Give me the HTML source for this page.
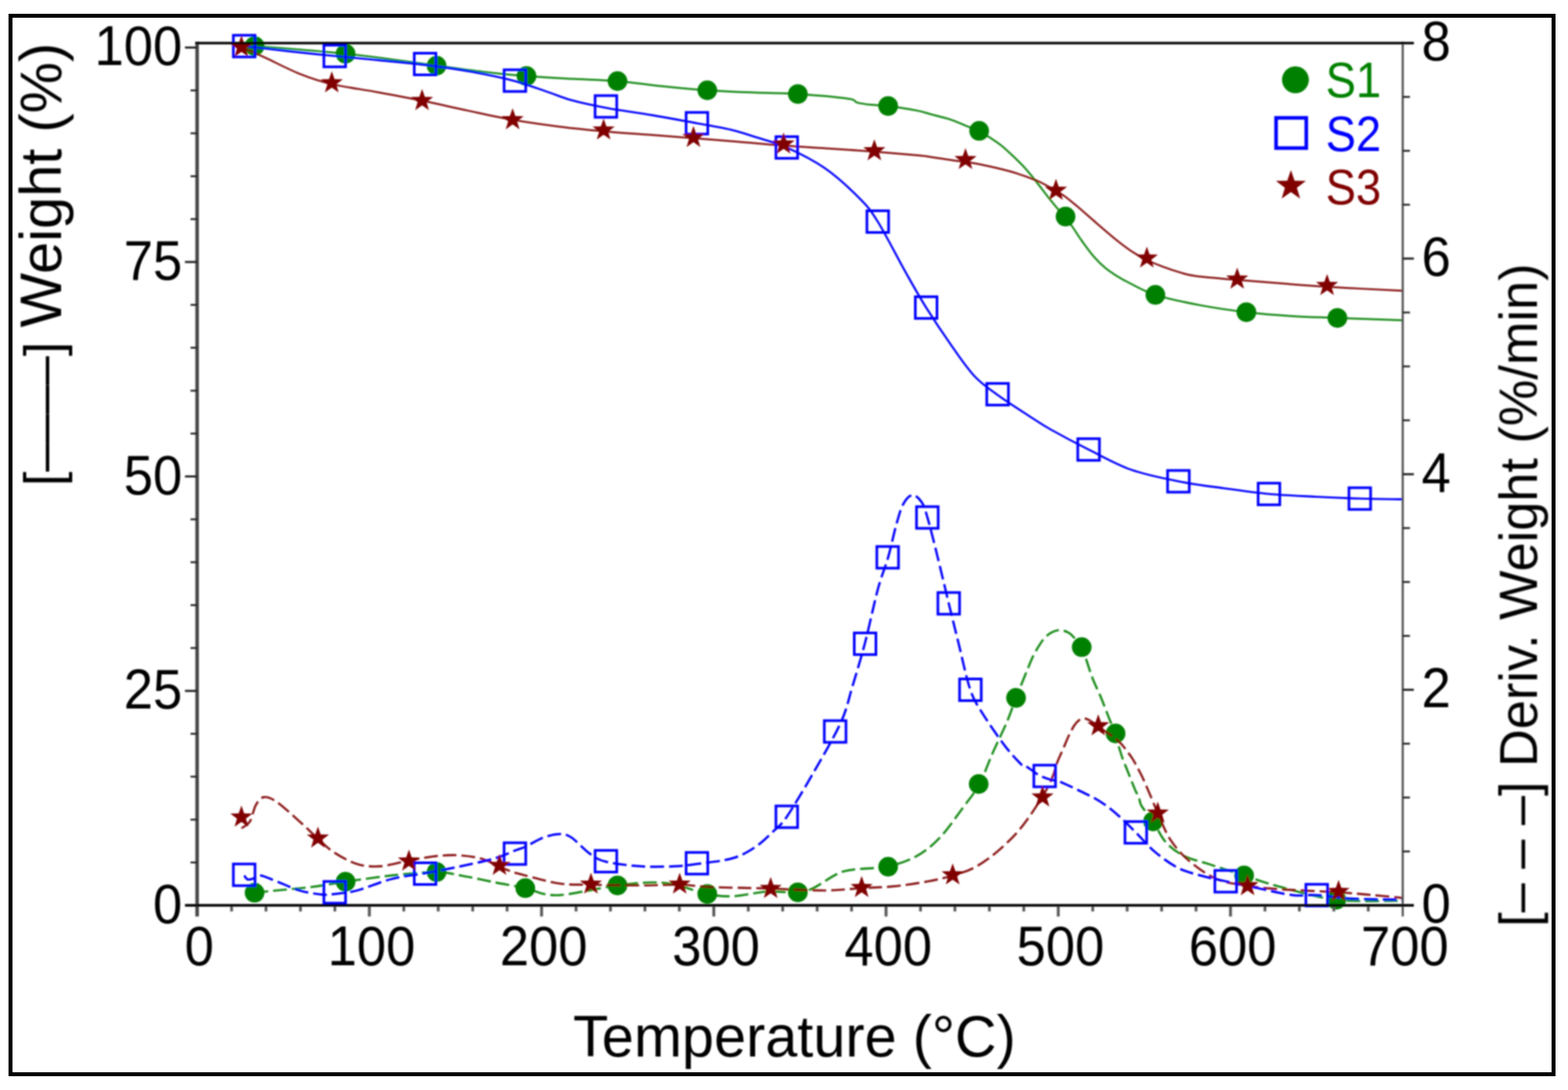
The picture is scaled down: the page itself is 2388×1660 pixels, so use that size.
<!DOCTYPE html>
<html lang="en"><head><meta charset="utf-8"><title>Weight and Deriv. Weight vs Temperature</title>
<style>
html,body{margin:0;padding:0;background:#fff;}
body{width:2388px;height:1660px;overflow:hidden;}
svg{display:block;}
text{font-family:"Liberation Sans",sans-serif;}
</style></head><body>
<svg width="2388" height="1660" viewBox="0 0 2388 1660">
<rect x="0" y="0" width="2388" height="1660" fill="#fff"/>
<defs><filter id="soft" x="-1%" y="-1%" width="102%" height="102%"><feGaussianBlur stdDeviation="1.1"/></filter></defs>
<g filter="url(#soft)">
<clipPath id="plot"><rect x="300.2" y="25.6" width="1836.1" height="1393.2"/></clipPath>
<g clip-path="url(#plot)">
<path d="M387.7 70.2C399.1 71.1 433 73.5 456.1 75.4C479.2 77.3 502.9 79.3 526.3 81.8C549.7 84.3 573.4 87.5 596.5 90.5C619.6 93.5 641.5 96.8 664.9 100C688.3 103.2 714.3 106.9 736.8 109.5C759.3 112.1 777.8 114 800 115.8C822.2 117.5 846.8 118.7 870.2 120C893.6 121.3 917 121.6 940.4 123.5C963.8 125.4 987.7 129.3 1010.5 131.6C1033.3 133.9 1053.8 135.9 1077.2 137.5C1100.6 139.1 1127.9 140.2 1150.9 141.1C1173.9 142 1191.7 141.7 1215.1 143.2C1238.5 144.7 1276.2 148 1291.2 150.2C1306.2 152.3 1299.5 154.5 1305.3 156.1C1311.1 157.7 1318.4 158.7 1326.3 159.6C1334.2 160.5 1340.9 159.9 1352.6 161.4C1364.3 162.9 1385.3 166.2 1396.5 168.4C1407.7 170.6 1411.7 172.4 1420 174.6C1428.3 176.8 1437.5 178.7 1446.3 181.6C1455.1 184.5 1465.1 189.1 1472.6 192.1C1480.1 195.1 1485.2 196.6 1491.1 199.5C1496.9 202.4 1502 205.9 1507.7 209.6C1513.4 213.3 1519.5 217.2 1525.3 221.9C1531.1 226.6 1536.9 232.1 1542.8 237.7C1548.7 243.3 1554.6 248.9 1560.4 255.3C1566.2 261.7 1572.1 269 1577.9 276.3C1583.7 283.6 1589.9 292.1 1595.4 299.1C1601 306.1 1606.7 313.1 1611.2 318.4C1615.7 323.7 1618.8 326.4 1622.6 331.1C1626.4 335.8 1629.8 340.4 1634 346.5C1638.2 352.6 1642.8 360.2 1648.1 367.5C1653.4 374.8 1659.8 383.7 1665.6 390.4C1671.4 397.1 1677.3 402.9 1683.2 407.9C1689.1 412.9 1694.9 416.5 1700.7 420.2C1706.5 423.9 1708.4 425.2 1718.2 430C1728 434.8 1741.3 443.3 1759.6 449.1C1777.9 454.9 1805 460.5 1828.1 464.9C1851.2 469.3 1874.8 472.6 1898.2 475.4C1921.6 478.1 1945.3 479.9 1968.4 481.4C1991.5 482.9 2009 483.1 2036.8 484.2C2064.6 485.2 2118.7 487.1 2135.1 487.7" fill="none" stroke="#008000" stroke-width="3" stroke-linejoin="round" stroke-opacity="0.9"/>
<path d="M387.7 1359.6C393.3 1359 406.8 1357.5 421.1 1356.1C435.4 1354.6 456.2 1353.1 473.7 1350.9C491.2 1348.7 505.8 1345.7 526.3 1342.8C546.8 1339.9 573.4 1335.8 596.5 1333.3C619.6 1330.8 647.4 1328.1 664.9 1328.1C682.4 1328.1 686.9 1330.7 701.8 1333.3C716.7 1335.9 738 1340.7 754.4 1343.9C770.8 1347.1 787.7 1349.7 800 1352.6C812.3 1355.5 819.3 1359.6 828.1 1361.4C836.9 1363.2 842.7 1363.8 852.6 1363.2C862.5 1362.6 873.1 1360.4 887.7 1357.9C902.3 1355.4 922.9 1350.7 940.4 1348.4C957.9 1346.1 978.4 1344.1 993 1343.9C1007.6 1343.7 1014.1 1344.5 1028.1 1347.4C1042.1 1350.3 1062.6 1358.5 1077.2 1361.4C1091.8 1364.3 1100.6 1365.5 1115.8 1364.9C1131 1364.3 1151.9 1358.9 1168.4 1357.9C1185 1356.9 1203.4 1359.8 1215.1 1358.9C1226.8 1358 1228.8 1357.1 1238.6 1352.6C1248.4 1348 1263.8 1336.3 1273.7 1331.6C1283.6 1326.9 1285.1 1326.6 1298.2 1324.6C1311.3 1322.5 1336.2 1322.8 1352.6 1319.3C1369 1315.8 1383.3 1310.8 1396.5 1303.5C1409.7 1296.2 1419.9 1287.7 1431.6 1275.4C1443.3 1263.1 1456.8 1243.2 1466.7 1229.8C1476.6 1216.3 1483.6 1208.7 1491.2 1194.7C1498.8 1180.7 1505.3 1161.4 1512.3 1145.6C1519.3 1129.8 1527.4 1113.8 1533.3 1100C1539.2 1086.2 1542.2 1076.1 1547.4 1062.8C1552.6 1049.5 1560.3 1030.5 1564.6 1020C1568.9 1009.5 1570.4 1005.6 1573.3 999.6C1576.2 993.6 1579.2 988.6 1582.1 983.9C1585 979.2 1587.7 975 1590.9 971.6C1594.1 968.2 1597.6 965.2 1601.4 963.2C1605.2 961.2 1609.6 959.7 1613.7 959.6C1617.8 959.5 1622.5 961.1 1626 962.8C1629.5 964.5 1631.1 966 1634.7 969.8C1638.3 973.6 1642.7 975.4 1647.4 985.6C1652.2 995.8 1658.5 1018.8 1663.2 1031.2C1667.9 1043.6 1672.7 1052.6 1675.8 1060C1678.9 1067.4 1680.2 1070.9 1682.1 1075.8C1684 1080.7 1685.8 1085.5 1687.4 1089.5C1689 1093.5 1689.7 1095.4 1691.6 1100C1693.5 1104.6 1696.8 1110.8 1698.9 1117.1C1701 1123.4 1702.4 1131.6 1704.2 1137.9C1706 1144.2 1707.6 1149.3 1709.5 1154.7C1711.4 1160.1 1713.7 1165.2 1715.8 1170.5C1717.9 1175.8 1720 1181 1722.1 1186.3C1724.2 1191.6 1726.3 1197.2 1728.4 1202.1C1730.5 1207 1733 1211.5 1734.7 1215.8C1736.5 1220.1 1735.3 1222.2 1738.9 1228C1742.5 1233.8 1750 1241.8 1756.1 1250.9C1762.2 1260 1767.5 1273.7 1775.4 1282.5C1783.3 1291.3 1791.8 1297.7 1803.5 1303.5C1815.2 1309.3 1830.4 1312.5 1845.6 1317.5C1860.8 1322.5 1877.2 1327.7 1894.7 1333.3C1912.2 1338.9 1927.5 1344.8 1950.9 1350.9C1974.3 1357.1 2004.4 1366.7 2035.1 1370.2C2065.8 1373.7 2118.4 1371.6 2135.1 1371.9" fill="none" stroke="#008000" stroke-width="3.4" stroke-linejoin="round" stroke-dasharray="21 7.5" stroke-opacity="0.9"/>
<circle cx="387.7" cy="70.2" r="15" fill="#008000"/>
<circle cx="526.3" cy="81.8" r="15" fill="#008000"/>
<circle cx="664.9" cy="100" r="15" fill="#008000"/>
<circle cx="801.8" cy="115.8" r="15" fill="#008000"/>
<circle cx="940.4" cy="123.5" r="15" fill="#008000"/>
<circle cx="1077.2" cy="137.5" r="15" fill="#008000"/>
<circle cx="1215.1" cy="143.2" r="15" fill="#008000"/>
<circle cx="1352.6" cy="161.4" r="15" fill="#008000"/>
<circle cx="1491.2" cy="199.3" r="15" fill="#008000"/>
<circle cx="1622.8" cy="329.8" r="15" fill="#008000"/>
<circle cx="1759.6" cy="449.1" r="15" fill="#008000"/>
<circle cx="1898.2" cy="475.4" r="15" fill="#008000"/>
<circle cx="2036.8" cy="484.2" r="15" fill="#008000"/>
<circle cx="387.7" cy="1359.6" r="15" fill="#008000"/>
<circle cx="526.3" cy="1342.8" r="15" fill="#008000"/>
<circle cx="664.9" cy="1328.1" r="15" fill="#008000"/>
<circle cx="800" cy="1352.6" r="15" fill="#008000"/>
<circle cx="940.4" cy="1348.4" r="15" fill="#008000"/>
<circle cx="1077.2" cy="1361.4" r="15" fill="#008000"/>
<circle cx="1215.1" cy="1358.9" r="15" fill="#008000"/>
<circle cx="1352.6" cy="1320" r="15" fill="#008000"/>
<circle cx="1490.5" cy="1194" r="15" fill="#008000"/>
<circle cx="1547.4" cy="1062.8" r="15" fill="#008000"/>
<circle cx="1647.4" cy="985.6" r="15" fill="#008000"/>
<circle cx="1699" cy="1117" r="15" fill="#008000"/>
<circle cx="1756.1" cy="1250.9" r="15" fill="#008000"/>
<circle cx="1894.7" cy="1333.3" r="15" fill="#008000"/>
<circle cx="2035.1" cy="1370.2" r="15" fill="#008000"/>
<path d="M367.7 71.9C373.7 74.5 388.8 81 403.5 87.7C418.2 94.4 439.1 105.6 456.1 112.3C473.1 119 485.4 123.4 505.3 128.1C525.2 132.8 552.5 136.2 575.4 140.4C598.3 144.6 620 148.6 642.8 153.3C665.6 158 689.3 163.5 712.3 168.4C735.3 173.3 757.3 178.4 780.7 182.5C804.1 186.6 829.5 190.1 852.6 193C875.7 195.9 896.5 197.9 919.3 200C942.1 202.1 966.7 203.6 989.5 205.3C1012.3 207.1 1033.9 208.8 1056.1 210.5C1078.3 212.2 1100 213.9 1122.8 215.8C1145.6 217.7 1169.6 220.1 1193 221.8C1216.4 223.6 1240.1 224.8 1263.2 226.3C1286.3 227.8 1308.8 229.2 1331.6 230.9C1354.4 232.7 1385.3 235.4 1400 236.8C1414.7 238.2 1410.8 238.2 1420 239.5C1429.2 240.8 1444.9 243.2 1455.1 244.7C1465.3 246.1 1472.6 246.7 1481.4 248.2C1490.2 249.7 1497.5 251.2 1507.7 253.5C1517.9 255.8 1531.1 258.8 1542.8 262.3C1554.5 265.8 1569.1 271.1 1577.9 274.6C1586.7 278.1 1590.4 280.6 1595.4 283.3C1600.4 286 1603.7 288.1 1608.1 290.7C1612.5 293.3 1616.6 295.4 1621.8 299.1C1627 302.9 1632 307.1 1639.3 313.2C1646.6 319.3 1655.4 327.2 1665.6 336C1675.8 344.8 1690.5 357.6 1700.7 365.8C1710.9 374 1719.3 380.1 1727 385.1C1734.7 390.1 1739.4 392.5 1746.7 396C1754 399.5 1762.5 403 1770.9 406.1C1779.3 409.2 1789 412.5 1797.2 414.9C1805.4 417.2 1805.5 418.3 1820 420.2C1834.5 422.1 1862.4 424.4 1884.2 426.3C1906 428.2 1928.1 429.9 1950.9 431.6C1973.7 433.4 1990.4 434.9 2021.1 436.8C2051.8 438.7 2116.1 441.8 2135.1 442.8" fill="none" stroke="#800000" stroke-width="3" stroke-linejoin="round" stroke-opacity="0.9"/>
<path d="M367.7 1261.4C369.9 1259.7 377.1 1256.8 380.7 1250.9C384.3 1245.1 386 1232.5 389.5 1226.3C393 1220.1 396.5 1214.9 401.8 1214C407.1 1213.1 412.1 1214.9 421.1 1221.1C430.2 1227.2 445.6 1241.6 456.1 1250.9C466.6 1260.2 475.4 1269.3 484.2 1277.2C493 1285.1 498.9 1291.8 508.8 1298.2C518.8 1304.6 532.2 1312.3 543.9 1315.8C555.6 1319.3 565.8 1320.2 578.9 1319.3C592 1318.4 608.2 1313.1 622.8 1310.5C637.4 1307.9 653.5 1304.8 666.7 1303.5C679.9 1302.2 690.1 1301.9 701.8 1302.8C713.5 1303.7 725.1 1305.2 736.8 1308.8C748.5 1312.4 761.4 1320.5 771.9 1324.6C782.4 1328.7 786.5 1329.8 800 1333.3C813.5 1336.8 835.9 1343.2 852.6 1345.6C869.3 1347.9 879.5 1346.9 900 1347.4C920.5 1347.9 952.9 1348.4 975.4 1348.4C997.9 1348.4 1017.5 1347 1035.1 1347.4C1052.6 1347.8 1061.4 1350 1080.7 1350.9C1100 1351.8 1135.4 1352.2 1150.9 1352.6C1166.4 1353 1156.2 1352.7 1173.7 1353.3C1191.2 1353.9 1233 1356.2 1256.1 1356.1C1279.2 1356 1294.8 1353.6 1312.3 1352.6C1329.8 1351.5 1344.5 1351.5 1361.4 1349.8C1378.4 1348 1399.1 1344.8 1414 1342.1C1428.9 1339.3 1439.2 1336.8 1450.9 1333.3C1462.6 1329.8 1472.8 1327.2 1484.2 1321.1C1495.6 1315 1507.6 1306.5 1519.3 1296.5C1531 1286.5 1543.3 1274.9 1554.4 1261.4C1565.5 1248 1578 1228.5 1586 1215.8C1594 1203.1 1598 1194.6 1602.1 1185.3C1606.2 1176 1607.7 1167.4 1610.5 1160C1613.3 1152.6 1616.1 1147.6 1618.9 1141.1C1621.7 1134.6 1624.6 1127.1 1627.4 1121.1C1630.2 1115.1 1633.2 1109.3 1635.8 1105.3C1638.4 1101.2 1640.8 1098.6 1643.2 1096.8C1645.7 1095 1647.9 1094.2 1650.5 1094.2C1653.1 1094.2 1655.2 1094.8 1658.9 1096.8C1662.6 1098.8 1668 1103.1 1672.6 1106.3C1677.2 1109.5 1682.3 1113 1686.3 1115.8C1690.3 1118.6 1693.3 1120.4 1696.8 1123.2C1700.3 1126 1704.2 1129.3 1707.4 1132.6C1710.6 1135.9 1713 1139.5 1715.8 1143.2C1718.6 1146.9 1721.4 1150.3 1724.2 1154.7C1727 1159.1 1729.8 1164.2 1732.6 1169.5C1735.4 1174.8 1738.5 1180.7 1741.1 1186.3C1743.7 1191.9 1746.1 1197.9 1748.4 1203.2C1750.7 1208.5 1752.2 1212 1754.7 1217.9C1757.2 1223.8 1758.6 1228.4 1763.2 1238.6C1767.8 1248.8 1774.6 1266.9 1782.5 1278.9C1790.4 1290.9 1798.8 1300.5 1810.5 1310.5C1822.2 1320.5 1837.7 1332.2 1852.6 1338.6C1867.5 1345 1883.6 1346.5 1900 1349.1C1916.4 1351.7 1927.8 1352.8 1950.9 1354.4C1974 1356 2015.2 1357.4 2038.6 1358.9C2062 1360.4 2075.1 1361.8 2091.2 1363.2C2107.3 1364.6 2127.8 1366.7 2135.1 1367.4" fill="none" stroke="#800000" stroke-width="3.4" stroke-linejoin="round" stroke-dasharray="21 7.5" stroke-opacity="0.9"/>
<path d="M371.9 70.2C383 71.5 415.6 75.4 438.6 77.9C461.6 80.4 486.4 83 509.8 85.3C533.2 87.6 556 89.6 578.9 91.9C601.8 94.2 624 96 647.4 98.9C670.8 101.8 696.5 105.4 719.3 109.5C742.1 113.6 764.9 118.3 784.2 123.5C803.5 128.7 820.8 135.6 835.1 140.4C849.4 145.2 855.6 148.6 870.2 152.6C884.8 156.6 902.3 160.4 922.8 164.2C943.3 168 969.9 171.5 993 175.4C1016.1 179.3 1040.9 183.9 1061.4 187.7C1081.9 191.5 1100.9 194.7 1115.8 198.2C1130.7 201.7 1137.2 204.4 1150.9 208.8C1164.6 213.2 1180.7 216.7 1198.2 224.6C1215.7 232.5 1237.7 243.2 1256.1 256.1C1274.5 269 1295.3 288.2 1308.8 301.8C1322.2 315.4 1325.1 318.8 1336.8 337.5C1348.5 356.2 1366.6 392.2 1378.9 414C1391.2 435.8 1398.8 449.7 1410.5 468.4C1422.2 487.1 1436.8 508.9 1449.1 526.3C1461.4 543.7 1472.5 560.5 1484.2 573C1495.9 585.5 1504.7 590.8 1519.3 601.4C1533.9 612 1558.5 627.7 1571.9 636.5C1585.4 645.3 1585.7 646 1600 654C1614.3 662 1637.4 674.4 1657.9 684.6C1678.4 694.8 1700 707.3 1722.8 715.4C1745.6 723.5 1771.3 728.3 1794.7 733C1818.1 737.7 1840.2 740.3 1863.2 743.5C1886.2 746.7 1909.2 750.1 1932.6 752.3C1956 754.5 1980.5 755.3 2003.5 756.5C2026.5 757.7 2049 758.6 2070.9 759.3C2092.8 759.9 2124.4 760.2 2135.1 760.4" fill="none" stroke="#0000ff" stroke-width="3.1" stroke-linejoin="round"/>
<path d="M371.9 1333.3C372.8 1334.3 374.8 1338.5 377.2 1339.3C379.6 1340.1 382.8 1338.9 386 1337.9C389.2 1336.9 390.6 1332.6 396.5 1333.3C402.4 1334 411.2 1338.3 421.1 1342.1C431 1345.9 444.4 1352.7 456.1 1356.1C467.8 1359.5 482.2 1361.6 491.2 1362.5C500.1 1363.4 501 1362.5 509.8 1361.4C518.6 1360.3 529.4 1359.9 543.9 1356.1C558.4 1352.3 579.2 1343 596.5 1338.6C613.8 1334.2 629.9 1333 647.4 1329.8C664.9 1326.6 684 1323.1 701.8 1319.3C719.6 1315.5 740.4 1311.1 754.4 1307C768.4 1302.9 778.4 1297.6 786 1294.7C793.6 1291.8 793 1292.7 800 1289.5C807 1286.3 819.3 1278.6 828.1 1275.4C836.9 1272.2 845.6 1270.2 852.6 1270.2C859.6 1270.2 862.6 1270.4 870.2 1275.4C877.8 1280.4 889.4 1293.8 898.2 1300C907 1306.2 909.9 1309.1 922.8 1312.3C935.7 1315.5 957.9 1318.1 975.4 1319.3C992.9 1320.5 1013.8 1319.9 1028.1 1319.3C1042.4 1318.7 1046.8 1317.8 1061.4 1315.8C1076 1313.8 1100.9 1311.4 1115.8 1307C1130.7 1302.6 1140.4 1296.5 1150.9 1289.5C1161.4 1282.5 1171 1272.5 1178.9 1264.9C1186.8 1257.3 1188.2 1258.5 1198.2 1243.9C1208.2 1229.3 1224.8 1201.2 1238.6 1177.2C1252.3 1153.2 1270.8 1122 1280.7 1100C1290.6 1078 1292.1 1065.5 1298.2 1045.3C1304.3 1025.1 1311.1 1003.2 1317.5 978.6C1323.9 954 1331 919.5 1336.8 897.9C1342.6 876.3 1347.9 865.2 1352.6 848.8C1357.3 832.4 1361.1 813 1364.9 799.6C1368.7 786.2 1371.3 775.7 1375.4 768.1C1379.5 760.5 1384.8 754.6 1389.5 754C1394.2 753.4 1399.7 759 1403.5 764.6C1407.3 770.2 1408.2 773.4 1412.3 787.4C1416.4 801.4 1422.7 826.9 1428.1 848.8C1433.5 870.7 1439.7 897.3 1444.9 918.9C1450.2 940.5 1454.2 957 1459.6 978.6C1465 1000.2 1471.3 1031.2 1477.2 1048.8C1483.1 1066.3 1485.9 1069.5 1494.7 1083.9C1503.5 1098.3 1519.8 1121.9 1529.8 1135.1C1539.8 1148.3 1549.4 1158.2 1554.4 1163.2C1559.4 1168.2 1557 1163.5 1560 1165.3C1563 1167 1568.7 1171.1 1572.6 1173.7C1576.5 1176.3 1578.6 1178.8 1583.2 1181.1C1587.8 1183.4 1595.3 1186 1600 1187.4C1604.7 1188.8 1607 1188 1611.6 1189.5C1616.2 1191 1620.9 1193.3 1627.4 1196.3C1633.9 1199.3 1644.2 1204.3 1650.5 1207.4C1656.8 1210.5 1659.3 1211.3 1665.3 1214.7C1671.3 1218.1 1679.6 1223.1 1686.3 1228C1693 1232.9 1698 1237.3 1705.3 1243.9C1712.5 1250.5 1721 1258.9 1729.8 1267.7C1738.6 1276.5 1747.4 1287.6 1757.9 1296.5C1768.4 1305.4 1781.3 1315 1793 1321.1C1804.7 1327.2 1815.8 1329.8 1828.1 1333.3C1840.4 1336.8 1852.1 1338.9 1866.7 1342.1C1881.3 1345.3 1898.8 1349.1 1915.8 1352.6C1932.8 1356.1 1953.5 1361.4 1968.4 1363.2C1983.3 1365 1990.7 1362.3 2005.3 1363.2C2019.9 1364.1 2034.5 1367.2 2056.1 1368.4C2077.7 1369.6 2121.9 1369.9 2135.1 1370.2" fill="none" stroke="#0000ff" stroke-width="3.5" stroke-linejoin="round" stroke-dasharray="21 7.5"/>
<rect x="355.4" y="53.7" width="33" height="33" fill="none" stroke="#0000ff" stroke-width="4"/>
<rect x="493.3" y="68.8" width="33" height="33" fill="none" stroke="#0000ff" stroke-width="4"/>
<rect x="630.9" y="81" width="33" height="33" fill="none" stroke="#0000ff" stroke-width="4"/>
<rect x="767.7" y="106.3" width="33" height="33" fill="none" stroke="#0000ff" stroke-width="4"/>
<rect x="906.3" y="145.6" width="33" height="33" fill="none" stroke="#0000ff" stroke-width="4"/>
<rect x="1044.9" y="171.2" width="33" height="33" fill="none" stroke="#0000ff" stroke-width="4"/>
<rect x="1181.7" y="208.1" width="33" height="33" fill="none" stroke="#0000ff" stroke-width="4"/>
<rect x="1320.3" y="321" width="33" height="33" fill="none" stroke="#0000ff" stroke-width="4"/>
<rect x="1394" y="451.9" width="33" height="33" fill="none" stroke="#0000ff" stroke-width="4"/>
<rect x="1502.8" y="583.9" width="33" height="33" fill="none" stroke="#0000ff" stroke-width="4"/>
<rect x="1641.4" y="668.1" width="33" height="33" fill="none" stroke="#0000ff" stroke-width="4"/>
<rect x="1778.2" y="716.5" width="33" height="33" fill="none" stroke="#0000ff" stroke-width="4"/>
<rect x="1916.1" y="735.8" width="33" height="33" fill="none" stroke="#0000ff" stroke-width="4"/>
<rect x="2054.4" y="742.8" width="33" height="33" fill="none" stroke="#0000ff" stroke-width="4"/>
<rect x="355.4" y="1315.8" width="33" height="33" fill="none" stroke="#0000ff" stroke-width="4"/>
<rect x="493.3" y="1342.4" width="33" height="33" fill="none" stroke="#0000ff" stroke-width="4"/>
<rect x="630.9" y="1314" width="33" height="33" fill="none" stroke="#0000ff" stroke-width="4"/>
<rect x="767.7" y="1283.5" width="33" height="33" fill="none" stroke="#0000ff" stroke-width="4"/>
<rect x="906.3" y="1295.1" width="33" height="33" fill="none" stroke="#0000ff" stroke-width="4"/>
<rect x="1044.9" y="1298.2" width="33" height="33" fill="none" stroke="#0000ff" stroke-width="4"/>
<rect x="1181.7" y="1227.4" width="33" height="33" fill="none" stroke="#0000ff" stroke-width="4"/>
<rect x="1255.4" y="1097.5" width="33" height="33" fill="none" stroke="#0000ff" stroke-width="4"/>
<rect x="1301" y="963.9" width="33" height="33" fill="none" stroke="#0000ff" stroke-width="4"/>
<rect x="1335.4" y="832.3" width="33" height="33" fill="none" stroke="#0000ff" stroke-width="4"/>
<rect x="1395.8" y="771.6" width="33" height="33" fill="none" stroke="#0000ff" stroke-width="4"/>
<rect x="1428.4" y="902.4" width="33" height="33" fill="none" stroke="#0000ff" stroke-width="4"/>
<rect x="1461.4" y="1034" width="33" height="33" fill="none" stroke="#0000ff" stroke-width="4"/>
<rect x="1574.5" y="1165.3" width="33" height="33" fill="none" stroke="#0000ff" stroke-width="4"/>
<rect x="1713.3" y="1251.2" width="33" height="33" fill="none" stroke="#0000ff" stroke-width="4"/>
<rect x="1850.2" y="1325.6" width="33" height="33" fill="none" stroke="#0000ff" stroke-width="4"/>
<rect x="1988.8" y="1346.7" width="33" height="33" fill="none" stroke="#0000ff" stroke-width="4"/>
<polygon points="367.7,54.1 371.9,66.1 384.6,66.4 374.5,74.1 378.2,86.3 367.7,79 357.2,86.3 360.9,74.1 350.8,66.4 363.5,66.1" fill="#800000"/>
<polygon points="505.3,108.5 509.5,120.5 522.2,120.8 512.1,128.5 515.8,140.7 505.3,133.4 494.8,140.7 498.5,128.5 488.4,120.8 501.1,120.5" fill="#800000"/>
<polygon points="642.8,135.5 647,147.5 659.7,147.8 649.6,155.5 653.3,167.7 642.8,160.4 632.3,167.7 636,155.5 625.9,147.8 638.6,147.5" fill="#800000"/>
<polygon points="780.7,164.7 784.9,176.7 797.6,177 787.5,184.7 791.2,196.9 780.7,189.6 770.2,196.9 773.9,184.7 763.8,177 776.5,176.7" fill="#800000"/>
<polygon points="919.3,180.4 923.5,192.4 936.2,192.7 926.1,200.4 929.8,212.6 919.3,205.3 908.8,212.6 912.5,200.4 902.4,192.7 915.1,192.4" fill="#800000"/>
<polygon points="1056.1,191.7 1060.3,203.7 1073,204 1062.9,211.7 1066.6,223.9 1056.1,216.6 1045.6,223.9 1049.3,211.7 1039.2,204 1051.9,203.7" fill="#800000"/>
<polygon points="1193.4,201.8 1197.6,213.8 1210.3,214.1 1200.2,221.8 1203.9,234 1193.4,226.7 1182.9,234 1186.6,221.8 1176.5,214.1 1189.2,213.8" fill="#800000"/>
<polygon points="1331.6,212 1335.8,224 1348.5,224.3 1338.4,232 1342.1,244.2 1331.6,236.9 1321.1,244.2 1324.8,232 1314.7,224.3 1327.4,224" fill="#800000"/>
<polygon points="1470.4,225.4 1474.6,237.4 1487.3,237.7 1477.2,245.4 1480.9,257.6 1470.4,250.3 1459.9,257.6 1463.6,245.4 1453.5,237.7 1466.2,237.4" fill="#800000"/>
<polygon points="1608.2,272.3 1612.4,284.3 1625.1,284.6 1615,292.3 1618.7,304.5 1608.2,297.2 1597.7,304.5 1601.4,292.3 1591.3,284.6 1604,284.3" fill="#800000"/>
<polygon points="1746.6,375.4 1750.8,387.4 1763.5,387.7 1753.4,395.4 1757.1,407.6 1746.6,400.3 1736.1,407.6 1739.8,395.4 1729.7,387.7 1742.4,387.4" fill="#800000"/>
<polygon points="1884.2,407.5 1888.4,419.5 1901.1,419.8 1891,427.5 1894.7,439.7 1884.2,432.4 1873.7,439.7 1877.4,427.5 1867.3,419.8 1880,419.5" fill="#800000"/>
<polygon points="2021.1,417.3 2025.3,429.3 2038,429.6 2027.9,437.3 2031.6,449.5 2021.1,442.2 2010.6,449.5 2014.3,437.3 2004.2,429.6 2016.9,429.3" fill="#800000"/>
<polygon points="367.7,1226.8 371.9,1238.8 384.6,1239.1 374.5,1246.8 378.2,1259 367.7,1251.7 357.2,1259 360.9,1246.8 350.8,1239.1 363.5,1238.8" fill="#800000"/>
<polygon points="484.2,1258.7 488.4,1270.7 501.1,1271 491,1278.7 494.7,1290.9 484.2,1283.6 473.7,1290.9 477.4,1278.7 467.3,1271 480,1270.7" fill="#800000"/>
<polygon points="622.8,1293.8 627,1305.8 639.7,1306.1 629.6,1313.8 633.3,1326 622.8,1318.7 612.3,1326 616,1313.8 605.9,1306.1 618.6,1305.8" fill="#800000"/>
<polygon points="760.7,1300.4 764.9,1312.4 777.6,1312.7 767.5,1320.4 771.2,1332.6 760.7,1325.3 750.2,1332.6 753.9,1320.4 743.8,1312.7 756.5,1312.4" fill="#800000"/>
<polygon points="900,1328.9 904.2,1340.9 916.9,1341.2 906.8,1348.9 910.5,1361.1 900,1353.8 889.5,1361.1 893.2,1348.9 883.1,1341.2 895.8,1340.9" fill="#800000"/>
<polygon points="1035.1,1328.9 1039.3,1340.9 1052,1341.2 1041.9,1348.9 1045.6,1361.1 1035.1,1353.8 1024.6,1361.1 1028.3,1348.9 1018.2,1341.2 1030.9,1340.9" fill="#800000"/>
<polygon points="1173.7,1335.5 1177.9,1347.5 1190.6,1347.8 1180.5,1355.5 1184.2,1367.7 1173.7,1360.4 1163.2,1367.7 1166.9,1355.5 1156.8,1347.8 1169.5,1347.5" fill="#800000"/>
<polygon points="1312.3,1334.1 1316.5,1346.1 1329.2,1346.4 1319.1,1354.1 1322.8,1366.3 1312.3,1359 1301.8,1366.3 1305.5,1354.1 1295.4,1346.4 1308.1,1346.1" fill="#800000"/>
<polygon points="1450.9,1314.8 1455.1,1326.8 1467.8,1327.1 1457.7,1334.8 1461.4,1347 1450.9,1339.7 1440.4,1347 1444.1,1334.8 1434,1327.1 1446.7,1326.8" fill="#800000"/>
<polygon points="1587.7,1196.2 1591.9,1208.2 1604.6,1208.5 1594.5,1216.2 1598.2,1228.4 1587.7,1221.1 1577.2,1228.4 1580.9,1216.2 1570.8,1208.5 1583.5,1208.2" fill="#800000"/>
<polygon points="1672.6,1087.8 1676.8,1099.8 1689.5,1100.1 1679.4,1107.8 1683.1,1120 1672.6,1112.7 1662.1,1120 1665.8,1107.8 1655.7,1100.1 1668.4,1099.8" fill="#800000"/>
<polygon points="1763.2,1220.8 1767.4,1232.8 1780.1,1233.1 1770,1240.8 1773.7,1253 1763.2,1245.7 1752.7,1253 1756.4,1240.8 1746.3,1233.1 1759,1232.8" fill="#800000"/>
<polygon points="1900,1331.3 1904.2,1343.3 1916.9,1343.6 1906.8,1351.3 1910.5,1363.5 1900,1356.2 1889.5,1363.5 1893.2,1351.3 1883.1,1343.6 1895.8,1343.3" fill="#800000"/>
<polygon points="2038.6,1340.1 2042.8,1352.1 2055.5,1352.4 2045.4,1360.1 2049.1,1372.3 2038.6,1365 2028.1,1372.3 2031.8,1360.1 2021.7,1352.4 2034.4,1352.1" fill="#800000"/>
</g>
<g fill="none" stroke-linecap="butt">
<line x1="300.2" y1="63.6" x2="300.2" y2="1395.8" stroke="#464646" stroke-width="5.4"/>
<line x1="2136.3" y1="63.6" x2="2136.3" y2="1395.8" stroke="#505050" stroke-width="3.2"/>
<line x1="290.2" y1="1313.5" x2="300.2" y2="1313.5" stroke="#222" stroke-width="2.8"/>
<line x1="290.2" y1="1248.2" x2="300.2" y2="1248.2" stroke="#222" stroke-width="2.8"/>
<line x1="290.2" y1="1182.8" x2="300.2" y2="1182.8" stroke="#222" stroke-width="2.8"/>
<line x1="290.2" y1="1117.5" x2="300.2" y2="1117.5" stroke="#222" stroke-width="2.8"/>
<line x1="281.7" y1="1052.2" x2="300.2" y2="1052.2" stroke="#222" stroke-width="3.2"/>
<line x1="290.2" y1="986.9" x2="300.2" y2="986.9" stroke="#222" stroke-width="2.8"/>
<line x1="290.2" y1="921.6" x2="300.2" y2="921.6" stroke="#222" stroke-width="2.8"/>
<line x1="290.2" y1="856.2" x2="300.2" y2="856.2" stroke="#222" stroke-width="2.8"/>
<line x1="290.2" y1="790.9" x2="300.2" y2="790.9" stroke="#222" stroke-width="2.8"/>
<line x1="281.7" y1="725.6" x2="300.2" y2="725.6" stroke="#222" stroke-width="3.2"/>
<line x1="290.2" y1="660.3" x2="300.2" y2="660.3" stroke="#222" stroke-width="2.8"/>
<line x1="290.2" y1="595" x2="300.2" y2="595" stroke="#222" stroke-width="2.8"/>
<line x1="290.2" y1="529.6" x2="300.2" y2="529.6" stroke="#222" stroke-width="2.8"/>
<line x1="290.2" y1="464.3" x2="300.2" y2="464.3" stroke="#222" stroke-width="2.8"/>
<line x1="281.7" y1="399" x2="300.2" y2="399" stroke="#222" stroke-width="3.2"/>
<line x1="290.2" y1="333.7" x2="300.2" y2="333.7" stroke="#222" stroke-width="2.8"/>
<line x1="290.2" y1="268.4" x2="300.2" y2="268.4" stroke="#222" stroke-width="2.8"/>
<line x1="290.2" y1="203" x2="300.2" y2="203" stroke="#222" stroke-width="2.8"/>
<line x1="290.2" y1="137.7" x2="300.2" y2="137.7" stroke="#222" stroke-width="2.8"/>
<line x1="281.7" y1="72.4" x2="300.2" y2="72.4" stroke="#222" stroke-width="3.2"/>
<line x1="2136.3" y1="1296.7" x2="2147.3" y2="1296.7" stroke="#222" stroke-width="2.8"/>
<line x1="2136.3" y1="1214.6" x2="2147.3" y2="1214.6" stroke="#222" stroke-width="2.8"/>
<line x1="2136.3" y1="1132.6" x2="2147.3" y2="1132.6" stroke="#222" stroke-width="2.8"/>
<line x1="2136.3" y1="1050.5" x2="2153.3" y2="1050.5" stroke="#222" stroke-width="3.2"/>
<line x1="2136.3" y1="968.4" x2="2147.3" y2="968.4" stroke="#222" stroke-width="2.8"/>
<line x1="2136.3" y1="886.3" x2="2147.3" y2="886.3" stroke="#222" stroke-width="2.8"/>
<line x1="2136.3" y1="804.2" x2="2147.3" y2="804.2" stroke="#222" stroke-width="2.8"/>
<line x1="2136.3" y1="722.2" x2="2153.3" y2="722.2" stroke="#222" stroke-width="3.2"/>
<line x1="2136.3" y1="640.1" x2="2147.3" y2="640.1" stroke="#222" stroke-width="2.8"/>
<line x1="2136.3" y1="558" x2="2147.3" y2="558" stroke="#222" stroke-width="2.8"/>
<line x1="2136.3" y1="475.9" x2="2147.3" y2="475.9" stroke="#222" stroke-width="2.8"/>
<line x1="2136.3" y1="393.8" x2="2153.3" y2="393.8" stroke="#222" stroke-width="3.2"/>
<line x1="2136.3" y1="311.8" x2="2147.3" y2="311.8" stroke="#222" stroke-width="2.8"/>
<line x1="2136.3" y1="229.7" x2="2147.3" y2="229.7" stroke="#222" stroke-width="2.8"/>
<line x1="2136.3" y1="147.6" x2="2147.3" y2="147.6" stroke="#222" stroke-width="2.8"/>
<line x1="352.7" y1="1378.8" x2="352.7" y2="1388.1" stroke="#585858" stroke-width="4.2"/>
<line x1="405.1" y1="1378.8" x2="405.1" y2="1388.1" stroke="#585858" stroke-width="4.2"/>
<line x1="457.6" y1="1378.8" x2="457.6" y2="1388.1" stroke="#585858" stroke-width="4.2"/>
<line x1="510" y1="1378.8" x2="510" y2="1388.1" stroke="#585858" stroke-width="4.2"/>
<line x1="562.5" y1="1378.8" x2="562.5" y2="1395.8" stroke="#585858" stroke-width="4.4"/>
<line x1="615" y1="1378.8" x2="615" y2="1388.1" stroke="#585858" stroke-width="4.2"/>
<line x1="667.4" y1="1378.8" x2="667.4" y2="1388.1" stroke="#585858" stroke-width="4.2"/>
<line x1="719.9" y1="1378.8" x2="719.9" y2="1388.1" stroke="#585858" stroke-width="4.2"/>
<line x1="772.3" y1="1378.8" x2="772.3" y2="1388.1" stroke="#585858" stroke-width="4.2"/>
<line x1="824.8" y1="1378.8" x2="824.8" y2="1395.8" stroke="#585858" stroke-width="4.4"/>
<line x1="877.3" y1="1378.8" x2="877.3" y2="1388.1" stroke="#585858" stroke-width="4.2"/>
<line x1="929.7" y1="1378.8" x2="929.7" y2="1388.1" stroke="#585858" stroke-width="4.2"/>
<line x1="982.2" y1="1378.8" x2="982.2" y2="1388.1" stroke="#585858" stroke-width="4.2"/>
<line x1="1034.6" y1="1378.8" x2="1034.6" y2="1388.1" stroke="#585858" stroke-width="4.2"/>
<line x1="1087.1" y1="1378.8" x2="1087.1" y2="1395.8" stroke="#585858" stroke-width="4.4"/>
<line x1="1139.6" y1="1378.8" x2="1139.6" y2="1388.1" stroke="#585858" stroke-width="4.2"/>
<line x1="1192" y1="1378.8" x2="1192" y2="1388.1" stroke="#585858" stroke-width="4.2"/>
<line x1="1244.5" y1="1378.8" x2="1244.5" y2="1388.1" stroke="#585858" stroke-width="4.2"/>
<line x1="1296.9" y1="1378.8" x2="1296.9" y2="1388.1" stroke="#585858" stroke-width="4.2"/>
<line x1="1349.4" y1="1378.8" x2="1349.4" y2="1395.8" stroke="#585858" stroke-width="4.4"/>
<line x1="1401.9" y1="1378.8" x2="1401.9" y2="1388.1" stroke="#585858" stroke-width="4.2"/>
<line x1="1454.3" y1="1378.8" x2="1454.3" y2="1388.1" stroke="#585858" stroke-width="4.2"/>
<line x1="1506.8" y1="1378.8" x2="1506.8" y2="1388.1" stroke="#585858" stroke-width="4.2"/>
<line x1="1559.2" y1="1378.8" x2="1559.2" y2="1388.1" stroke="#585858" stroke-width="4.2"/>
<line x1="1611.7" y1="1378.8" x2="1611.7" y2="1395.8" stroke="#585858" stroke-width="4.4"/>
<line x1="1664.2" y1="1378.8" x2="1664.2" y2="1388.1" stroke="#585858" stroke-width="4.2"/>
<line x1="1716.6" y1="1378.8" x2="1716.6" y2="1388.1" stroke="#585858" stroke-width="4.2"/>
<line x1="1769.1" y1="1378.8" x2="1769.1" y2="1388.1" stroke="#585858" stroke-width="4.2"/>
<line x1="1821.5" y1="1378.8" x2="1821.5" y2="1388.1" stroke="#585858" stroke-width="4.2"/>
<line x1="1874" y1="1378.8" x2="1874" y2="1395.8" stroke="#585858" stroke-width="4.4"/>
<line x1="1926.5" y1="1378.8" x2="1926.5" y2="1388.1" stroke="#585858" stroke-width="4.2"/>
<line x1="1978.9" y1="1378.8" x2="1978.9" y2="1388.1" stroke="#585858" stroke-width="4.2"/>
<line x1="2031.4" y1="1378.8" x2="2031.4" y2="1388.1" stroke="#585858" stroke-width="4.2"/>
<line x1="2083.8" y1="1378.8" x2="2083.8" y2="1388.1" stroke="#585858" stroke-width="4.2"/>
<line x1="297.5" y1="65.6" x2="2153.3" y2="65.6" stroke="#000" stroke-width="3.9"/>
<line x1="281.7" y1="1378.8" x2="2153.3" y2="1378.8" stroke="#000" stroke-width="3.9"/>
</g>
<g font-size="80" fill="#000">
<text transform="translate(277.5 1405.8) scale(1 1.06)" text-anchor="end">0</text>
<text transform="translate(277.5 1079.2) scale(1 1.06)" text-anchor="end">25</text>
<text transform="translate(277.5 752.6) scale(1 1.06)" text-anchor="end">50</text>
<text transform="translate(277.5 426) scale(1 1.06)" text-anchor="end">75</text>
<text transform="translate(277.5 99.4) scale(1 1.06)" text-anchor="end">100</text>
<text transform="translate(2165 1405.3) scale(1 1.06)" text-anchor="start">0</text>
<text transform="translate(2165 1077) scale(1 1.06)" text-anchor="start">2</text>
<text transform="translate(2165 748.7) scale(1 1.06)" text-anchor="start">4</text>
<text transform="translate(2165 420.3) scale(1 1.06)" text-anchor="start">6</text>
<text transform="translate(2165 92) scale(1 1.06)" text-anchor="start">8</text>
<text transform="translate(303.5 1470.3) scale(1 1.06)" text-anchor="middle">0</text>
<text transform="translate(565.8 1470.3) scale(1 1.06)" text-anchor="middle">100</text>
<text transform="translate(828.1 1470.3) scale(1 1.06)" text-anchor="middle">200</text>
<text transform="translate(1090.4 1470.3) scale(1 1.06)" text-anchor="middle">300</text>
<text transform="translate(1352.7 1470.3) scale(1 1.06)" text-anchor="middle">400</text>
<text transform="translate(1615 1470.3) scale(1 1.06)" text-anchor="middle">500</text>
<text transform="translate(1877.3 1470.3) scale(1 1.06)" text-anchor="middle">600</text>
<text transform="translate(2139.6 1470.3) scale(1 1.06)" text-anchor="middle">700</text>
</g>
<text transform="translate(1209.8 1609.4) scale(1 1.015)" font-size="87.8" text-anchor="middle" fill="#000">Temperature (°C)</text>
<text transform="translate(93.2 740.2) rotate(-90) scale(1 1.015)" fill="#000" style="white-space:pre"><tspan font-size="79">[––––] </tspan><tspan font-size="88">Weight (%)</tspan></text>
<text transform="translate(2340.8 1411.5) rotate(-90) scale(1 1.015)" fill="#000" style="white-space:pre"><tspan font-size="79.64">[– – –] Deriv. Weight (%/min)</tspan></text>
<g font-size="69">
<circle cx="1972.9" cy="121.5" r="20.5" fill="#008000"/>
<text transform="translate(2019 147.9) scale(1 1.095)" fill="#008000">S1</text>
<rect x="1943.4" y="179.5" width="46" height="46" fill="none" stroke="#0000ff" stroke-width="5.5"/>
<text transform="translate(2019 230.4) scale(1 1.095)" fill="#0000ff">S2</text>
<polygon points="1966,259 1971.6,275.2 1988.8,275.6 1975.1,286 1980.1,302.4 1966,292.6 1951.9,302.4 1956.9,286 1943.2,275.6 1960.4,275.2" fill="#800000"/>
<text transform="translate(2019 310.8) scale(1 1.095)" fill="#800000">S3</text>
</g>
</g>
<rect x="16" y="24" width="2350" height="1612" fill="none" stroke="#000" stroke-width="6" shape-rendering="crispEdges"/>
</svg>
</body></html>
